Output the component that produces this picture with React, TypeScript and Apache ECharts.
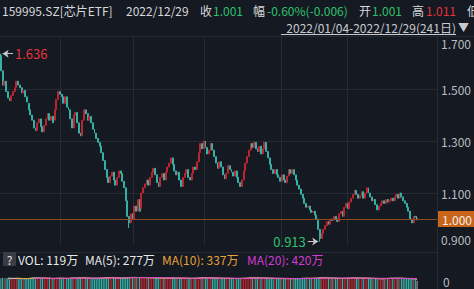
import React, { useEffect, useRef } from "react";
import * as echarts from "echarts";

// ---------- data ----------
const stockName = "159995.SZ[芯片ETF]";
const lastDate = "2022/12/29";
const rangeText = "2022/01/04-2022/12/29(241日)";

const opens = [
  1.630, 1.570, 1.515, 1.530, 1.490, 1.465, 1.455, 1.475, 1.490, 1.505,
  1.530, 1.515, 1.505, 1.485, 1.495, 1.470, 1.445, 1.420, 1.400, 1.380,
  1.350, 1.340, 1.370, 1.385, 1.355, 1.335, 1.360, 1.385, 1.405, 1.380,
  1.395, 1.380, 1.420, 1.460, 1.490, 1.480, 1.470, 1.445, 1.470, 1.430,
  1.420, 1.385, 1.350, 1.400, 1.410, 1.370, 1.330, 1.320, 1.380, 1.420,
  1.405, 1.380, 1.395, 1.370, 1.345, 1.330, 1.310, 1.295, 1.280, 1.255,
  1.225, 1.190, 1.160, 1.140, 1.165, 1.180, 1.150, 1.130, 1.160, 1.185,
  1.175, 1.145, 1.120, 1.070, 1.010, 0.985, 1.020, 1.000, 1.050, 1.030,
  1.075, 1.040, 1.100, 1.120, 1.135, 1.150, 1.130, 1.160, 1.180, 1.195,
  1.170, 1.140, 1.125, 1.160, 1.175, 1.150, 1.180, 1.200, 1.215, 1.235,
  1.210, 1.185, 1.170, 1.180, 1.150, 1.125, 1.160, 1.175, 1.190, 1.160,
  1.150, 1.175, 1.200, 1.190, 1.220, 1.255, 1.290, 1.270, 1.300, 1.275,
  1.250, 1.265, 1.290, 1.265, 1.240, 1.215, 1.195, 1.220, 1.200, 1.170,
  1.155, 1.175, 1.205, 1.190, 1.180, 1.165, 1.185, 1.160, 1.140, 1.125,
  1.150, 1.185, 1.215, 1.240, 1.265, 1.290, 1.275, 1.295, 1.270, 1.260,
  1.280, 1.250, 1.270, 1.295, 1.260, 1.235, 1.210, 1.190, 1.175, 1.190,
  1.170, 1.160, 1.145, 1.170, 1.150, 1.140, 1.165, 1.190, 1.175, 1.190,
  1.170, 1.150, 1.130, 1.115, 1.095, 1.080, 1.060, 1.045, 1.050, 1.035,
  1.025, 1.030, 1.015, 1.000, 0.960, 0.925, 0.945, 0.960, 0.975, 0.990,
  0.980, 1.000, 0.995, 1.010, 1.000, 0.990, 1.020, 1.030, 1.010, 1.045,
  1.060, 1.040, 1.065, 1.080, 1.095, 1.110, 1.095, 1.080, 1.090, 1.105,
  1.080, 1.100, 1.120, 1.100, 1.085, 1.070, 1.075, 1.055, 1.035, 1.050,
  1.060, 1.070, 1.060, 1.075, 1.065, 1.070, 1.080, 1.070, 1.085, 1.095,
  1.080, 1.100, 1.085, 1.070, 1.060, 1.045, 1.030, 1.000, 0.985, 1.010,
  1.001,
];

const closes = [
  1.570, 1.515, 1.530, 1.490, 1.465, 1.455, 1.475, 1.490, 1.505, 1.530,
  1.515, 1.505, 1.485, 1.495, 1.470, 1.450, 1.420, 1.400, 1.380, 1.350,
  1.340, 1.370, 1.385, 1.355, 1.335, 1.360, 1.385, 1.405, 1.380, 1.395,
  1.370, 1.420, 1.460, 1.490, 1.480, 1.470, 1.445, 1.470, 1.430, 1.420,
  1.385, 1.350, 1.400, 1.410, 1.370, 1.330, 1.320, 1.380, 1.420, 1.405,
  1.380, 1.395, 1.370, 1.345, 1.330, 1.310, 1.295, 1.280, 1.255, 1.225,
  1.190, 1.160, 1.140, 1.165, 1.180, 1.150, 1.130, 1.160, 1.185, 1.175,
  1.145, 1.120, 1.070, 1.010, 0.985, 1.020, 1.000, 1.050, 1.030, 1.075,
  1.030, 1.100, 1.120, 1.135, 1.150, 1.130, 1.160, 1.180, 1.195, 1.170,
  1.140, 1.125, 1.160, 1.175, 1.150, 1.180, 1.200, 1.215, 1.235, 1.210,
  1.185, 1.170, 1.180, 1.150, 1.125, 1.160, 1.175, 1.190, 1.160, 1.150,
  1.175, 1.200, 1.190, 1.220, 1.255, 1.290, 1.270, 1.300, 1.275, 1.250,
  1.265, 1.290, 1.265, 1.240, 1.215, 1.195, 1.220, 1.200, 1.170, 1.155,
  1.175, 1.205, 1.190, 1.180, 1.165, 1.185, 1.160, 1.140, 1.125, 1.150,
  1.185, 1.215, 1.240, 1.265, 1.290, 1.275, 1.295, 1.270, 1.260, 1.280,
  1.250, 1.270, 1.295, 1.260, 1.235, 1.210, 1.190, 1.175, 1.190, 1.170,
  1.160, 1.145, 1.170, 1.150, 1.140, 1.165, 1.190, 1.175, 1.190, 1.170,
  1.150, 1.130, 1.115, 1.095, 1.080, 1.060, 1.045, 1.050, 1.035, 1.025,
  1.030, 1.015, 1.000, 0.960, 0.925, 0.945, 0.960, 0.975, 0.990, 0.980,
  1.000, 0.995, 1.010, 1.000, 0.990, 1.020, 1.030, 1.010, 1.045, 1.060,
  1.040, 1.065, 1.080, 1.095, 1.110, 1.095, 1.080, 1.090, 1.105, 1.080,
  1.100, 1.120, 1.100, 1.085, 1.070, 1.075, 1.055, 1.035, 1.050, 1.060,
  1.070, 1.060, 1.075, 1.065, 1.070, 1.080, 1.070, 1.085, 1.095, 1.080,
  1.100, 1.085, 1.070, 1.060, 1.045, 1.030, 1.000, 0.985, 1.010, 1.007,
  1.001,
];

// explicit wick extremes: [index, value]
const highMarks: [number, number][] = [[0, 1.636], [240, 1.011]];
const lowMarks: [number, number][] = [[74, 0.965], [184, 0.913], [240, 0.995]];

// volume, in 万
const volumes = [
  520, 610, 480, 560, 430, 390, 450, 470, 510, 430,
  400, 380, 350, 330, 420, 460, 540, 590, 620, 650,
  580, 520, 470, 490, 560, 510, 450, 420, 390, 360,
  380, 480, 560, 530, 460, 420, 390, 440, 480, 500,
  560, 620, 580, 520, 540, 600, 680, 620, 560, 480,
  430, 410, 450, 480, 500, 470, 520, 560, 600, 650,
  720, 780, 700, 640, 580, 600, 560, 520, 480, 500,
  560, 640, 760, 880, 920, 780, 700, 820, 740, 690,
  650, 760, 720, 680, 640, 600, 620, 660, 640, 580,
  560, 520, 540, 500, 480, 520, 560, 600, 620, 580,
  540, 500, 470, 460, 500, 480, 450, 470, 440, 420,
  460, 520, 500, 580, 660, 720, 680, 700, 620, 580,
  560, 600, 540, 500, 480, 460, 440, 420, 460, 480,
  440, 470, 430, 400, 390, 410, 430, 460, 480, 450,
  500, 560, 600, 620, 660, 600, 640, 580, 540, 560,
  520, 500, 540, 500, 460, 440, 420, 400, 380, 390,
  410, 430, 400, 380, 360, 390, 420, 400, 380, 370,
  400, 430, 460, 480, 500, 520, 480, 440, 460, 480,
  500, 520, 560, 640, 720, 660, 600, 560, 520, 540,
  500, 480, 460, 440, 420, 460, 480, 450, 500, 540,
  520, 560, 600, 620, 580, 540, 500, 480, 520, 500,
  480, 520, 460, 420, 400, 380, 360, 380, 360, 340,
  330, 520, 540, 480, 500, 510, 490, 530, 480, 500,
  480, 420, 400, 390, 385, 390, 370, 330, 296, 270,
  119,
];

const monthStartIdx = [35, 77, 118, 162, 200];
const priceMin = 0.9;
const priceMax = 1.7;
const priceStep = 0.2;
const lastPriceLine = 1.0;
const emptySlots = 11;
const maPeriods = [5, 10, 20];

// ---------- styles ----------
const BG = "#151921";
const GRID = "#262a32";
const AXIS_TXT = "#b8bcc4";
const TXT = "#d6d8dc";
const CANDLE_UP = "#bb2530";
const CANDLE_DOWN = "#36b0a5";
const RED = "#e8333f";
const GREEN = "#2ec26d";
const MA_COLORS = ["#e4e4e4", "#e6a23c", "#d43bd4"];
const FONT = '"Noto Sans CJK SC", "Noto Sans", sans-serif';

function movingAverage(arr: number[], n: number) {
  return arr.map((_, i) => {
    if (i < n - 1) return "-";
    let s = 0;
    for (let k = i - n + 1; k <= i; k++) s += arr[k];
    return s / n;
  });
}

export default function App() {
  const ref = useRef<HTMLDivElement>(null);

  useEffect(() => {
    if (!ref.current) return;
    const chart = echarts.init(ref.current, null, { renderer: "svg" });
    const N = closes.length;
    const cats = Array.from({ length: N + emptySlots }, (_, i) => "d" + i);

    const highs = closes.map((c, i) => Math.max(c, opens[i]));
    const lows = closes.map((c, i) => Math.min(c, opens[i]));
    highMarks.forEach(([i, v]) => (highs[i] = v));
    lowMarks.forEach(([i, v]) => (lows[i] = v));

    const candleData = closes.map((c, i) => [opens[i], c, lows[i], highs[i]]);

    let maxIdx = 0;
    let minIdx = 0;
    highs.forEach((h, i) => { if (h > highs[maxIdx]) maxIdx = i; });
    lows.forEach((l, i) => { if (l < lows[minIdx]) minIdx = i; });

    const volData = volumes.map((v, i) => ({
      value: v,
      itemStyle: {
        color: closes[i] > opens[i] ? CANDLE_UP : closes[i] < opens[i] ? CANDLE_DOWN : "#9a9a9a",
      },
    }));
    const mas = maPeriods.map((p) => movingAverage(volumes, p));

    const last = N - 1;
    const prevClose = closes[last - 1];
    const change = closes[last] - prevClose;
    const pct = (change / prevClose) * 100;
    const lastMa = mas.map((m) => Math.round(m[last] as number));

    const splitInterval = (idx: number) => monthStartIdx.includes(idx);

    const t = (text: string, x: number, y: number, fill: string, size = 12, align = "left") => ({
      type: "text",
      x,
      y,
      silent: true,
      style: {
        text,
        fill,
        fontSize: size,
        fontFamily: FONT,
        align,
        textAlign: align,
        verticalAlign: "middle",
        textVerticalAlign: "middle",
      },
    });
    const ln = (x1: number, y1: number, x2: number, y2: number, stroke = GRID) => ({
      type: "line",
      silent: true,
      shape: { x1, y1, x2, y2 },
      style: { stroke, lineWidth: 1 },
    });

    const option: any = {
      animation: false,
      backgroundColor: BG,
      textStyle: { fontFamily: FONT },
      grid: [
        { left: 0, right: 37, top: 37, bottom: 44 },
        { left: 0, right: 37, top: 277, height: 16 },
      ],
      xAxis: [0, 1].map((g) => ({
        type: "category",
        gridIndex: g,
        data: cats,
        boundaryGap: true,
        axisLine: { show: false },
        axisTick: { show: false },
        axisLabel: { show: false },
        splitLine: { show: true, interval: splitInterval, lineStyle: { color: GRID, width: 1 } },
      })),
      yAxis: [
        {
          type: "value",
          gridIndex: 0,
          position: "right",
          min: priceMin,
          max: priceMax,
          interval: priceStep,
          axisLine: { show: false },
          axisTick: { show: false },
          axisLabel: {
            color: AXIS_TXT,
            fontSize: 12,
            margin: 4,
            formatter: (v: number) => v.toFixed(3),
            verticalAlignMinLabel: "bottom",
            verticalAlignMaxLabel: "top",
          },
          splitLine: {
            show: true,
            lineStyle: { color: ["rgba(0,0,0,0)", GRID, GRID, GRID, "rgba(0,0,0,0)"], width: 1 },
          },
        },
        {
          type: "log",
          gridIndex: 1,
          position: "right",
          min: 1,
          max: 1000,
          show: false,
        },
      ],
      series: [
        {
          type: "candlestick",
          xAxisIndex: 0,
          yAxisIndex: 0,
          data: candleData,
          barWidth: "85%",
          itemStyle: {
            color: CANDLE_UP,
            color0: CANDLE_DOWN,
            borderColor: CANDLE_UP,
            borderColor0: CANDLE_DOWN,
            borderColorDoji: "#9a9a9a",
            borderWidth: 1,
          },
          markLine: {
            silent: true,
            animation: false,
            symbol: ["none", "none"],
            data: [
              {
                yAxis: lastPriceLine,
                lineStyle: { color: "#8d4a24", width: 1, type: "solid" },
                label: {
                  show: true,
                  position: "end",
                  distance: 1,
                  formatter: lastPriceLine.toFixed(3),
                  color: "#f4f0ea",
                  fontSize: 12,
                  backgroundColor: "#c8651b",
                  padding: [2, 6, 2, 4],
                },
              },
              [
                {
                  coord: [maxIdx + 1, highs[maxIdx]],
                  symbol: "arrow",
                  symbolSize: 6,
                  lineStyle: { color: "#c8c8c8", width: 1, type: "solid" },
                  label: {
                    show: true,
                    position: "end",
                    distance: 2,
                    formatter: highs[maxIdx].toFixed(3),
                    color: RED,
                    fontSize: 13,
                  },
                },
                { coord: [maxIdx + 7, highs[maxIdx]], symbol: "none" },
              ],
              [
                {
                  coord: [minIdx - 7, lows[minIdx]],
                  symbol: "none",
                  lineStyle: { color: "#c8c8c8", width: 1, type: "solid" },
                  label: {
                    show: true,
                    position: "start",
                    distance: 2,
                    formatter: lows[minIdx].toFixed(3),
                    color: GREEN,
                    fontSize: 13,
                  },
                },
                { coord: [minIdx - 1, lows[minIdx]], symbol: "arrow", symbolSize: 6 },
              ],
            ],
          },
        },
        {
          type: "bar",
          xAxisIndex: 1,
          yAxisIndex: 1,
          data: volData,
          barWidth: "70%",
        },
        ...mas.map((m, k) => ({
          type: "line",
          xAxisIndex: 1,
          yAxisIndex: 1,
          data: m,
          showSymbol: false,
          symbol: "none",
          lineStyle: { color: MA_COLORS[k], width: 1 },
        })),
      ],
      graphic: [
        ln(0, 36.5, 474, 36.5),
        ln(0, 252.5, 437, 252.5),
        ln(437.5, 36, 437.5, 289),
        t(stockName, 2, 10, TXT),
        t(lastDate, 126, 10, TXT),
        t("收", 200, 10, TXT),
        t(closes[last].toFixed(3), 213, 10, change >= 0 ? RED : GREEN),
        t("幅", 253, 10, TXT),
        t(`${pct.toFixed(2)}%(${change.toFixed(3)})`, 267, 10, change >= 0 ? RED : GREEN),
        t("开", 359, 10, TXT),
        t(opens[last].toFixed(3), 372, 10, opens[last] >= prevClose ? RED : GREEN),
        t("高", 412, 10, TXT),
        t(highs[last].toFixed(3), 426, 10, highs[last] >= prevClose ? RED : GREEN),
        t("低", 467, 10, TXT),
        t(rangeText, 456, 27, "#c8cad0", 12, "right"),
        ln(281, 34.5, 456, 34.5, "#c8cad0"),
        t("▼", 458, 27, "#c8cad0", 11),
        {
          type: "rect",
          silent: true,
          shape: { x: 3, y: 252, width: 13, height: 14, r: 1 },
          style: { fill: "#3a3d45" },
        },
        t("?", 9.5, 259, "#e0e0e0", 12, "center"),
        t(`VOL: ${volumes[last]}万`, 18, 259, "#e8e8e8"),
        t(`MA(${maPeriods[0]}): ${lastMa[0]}万`, 85, 259, "#e8e8e8"),
        t(`MA(${maPeriods[1]}): ${lastMa[1]}万`, 162, 259, MA_COLORS[1]),
        t(`MA(${maPeriods[2]}): ${lastMa[2]}万`, 247, 259, MA_COLORS[2]),
        t("0", 443, 281, AXIS_TXT),
      ],
    };

    chart.setOption(option);
    return () => chart.dispose();
  }, []);

  return (
    <div
      ref={ref}
      style={{ position: "fixed", left: 0, top: 0, width: 474, height: 289 }}
    />
  );
}
